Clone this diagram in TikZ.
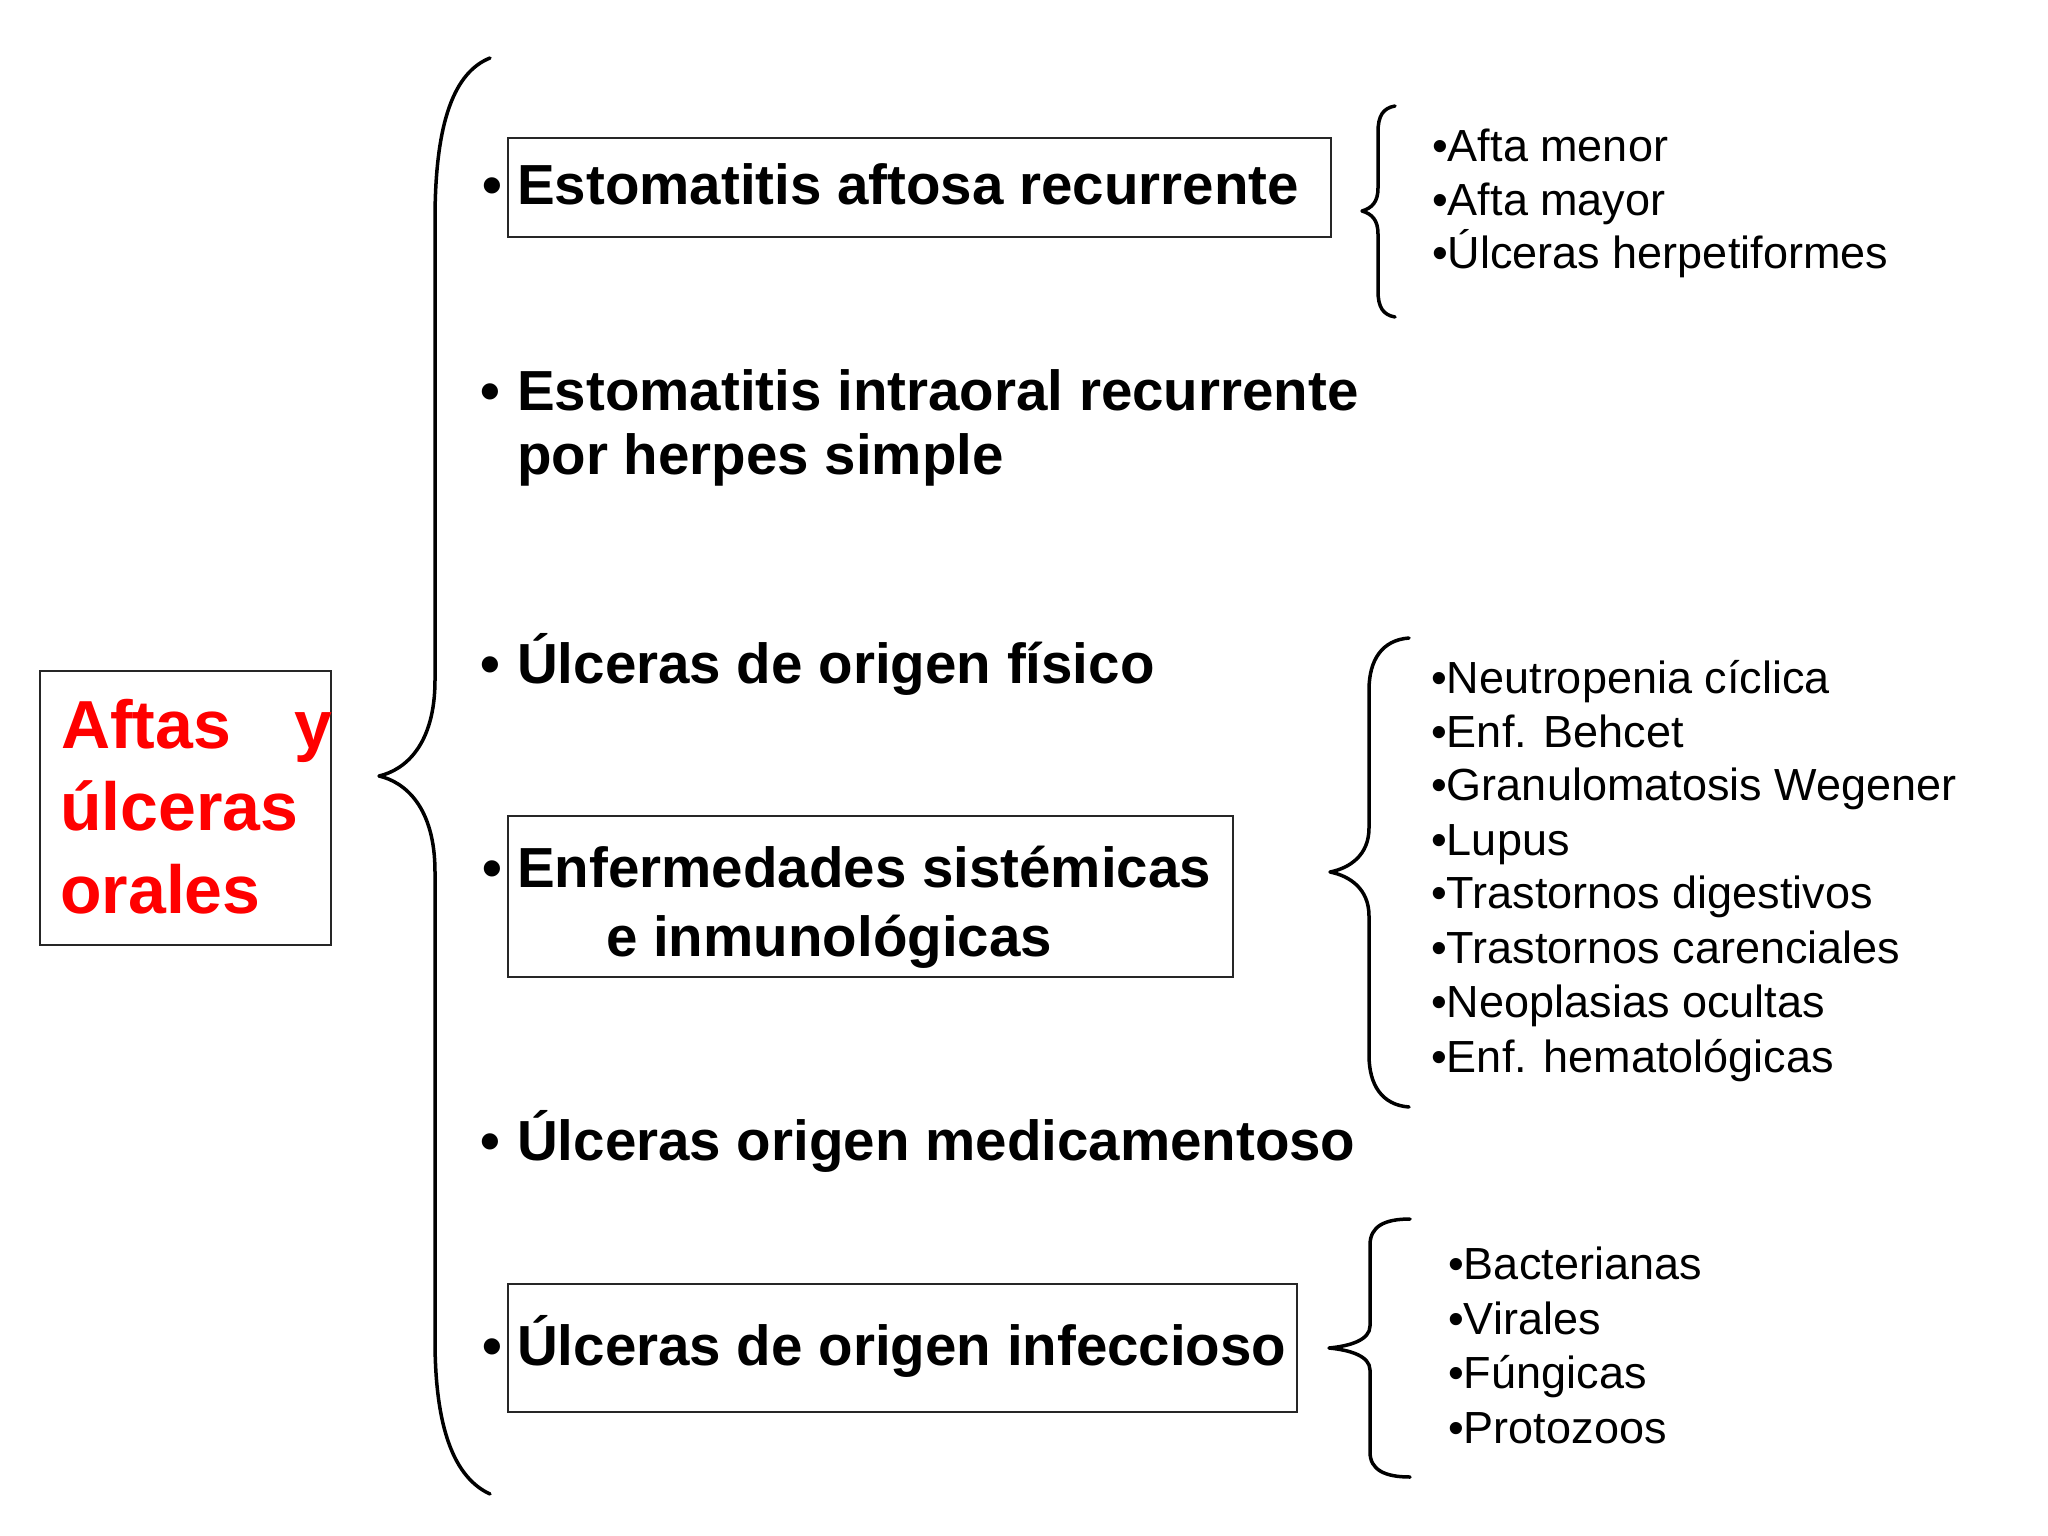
\documentclass[tikz,border=0pt]{standalone}
\usepackage{fontspec}
\setmainfont{Liberation Sans}
\tikzset{
  itemtext/.style={anchor=base west, inner sep=0pt, font=\fontsize{56.5}{60}\selectfont\bfseries},
  subtext/.style={anchor=base west, inner sep=0pt, font=\fontsize{45}{50}\selectfont},
  redtext/.style={inner sep=0pt, text=red, font=\fontsize{68}{72}\selectfont\bfseries},
  framebox/.style={draw=black!85, line width=2.5pt, inner sep=0pt},
  bracepath/.style={draw=black, line width=3.5pt, line cap=round, line join=round}
}
\begin{document}
\begin{tikzpicture}[x=1pt,y=-1pt]
\fill[white] (0,0) rectangle (2048,1536);
\useasboundingbox (0,0) rectangle (2048,1536);

% main box
\node[framebox, minimum width=291pt, minimum height=274pt] (main) at (185.5,808) {};
\node[redtext, anchor=base west] (r1) at (61,748) {Aftas};
\node[redtext, anchor=base east] (r1y) at (333,748) {y};
\node[redtext, anchor=base west] (r2) at (60,830) {úlceras};
\node[redtext, anchor=base west] (r3) at (60,913) {orales};

% big brace
\draw[bracepath] (490,58) .. controls (455,72) and (435,120) .. (435,220) -- (435,680)
  .. controls (435,745) and (405,770) .. (379,776)
  .. controls (405,782) and (435,807) .. (435,872) -- (435,1340)
  .. controls (435,1430) and (455,1478) .. (490,1494);

% item boxes
\node[framebox, minimum width=823pt, minimum height=99pt] (box1) at (919.5,187.5) {};
\node[framebox, minimum width=725pt, minimum height=161pt] (box4) at (870.5,896.5) {};
\node[framebox, minimum width=789pt, minimum height=128pt] (box6) at (902.5,1348) {};

% bullets
\node[itemtext] (b1) at (482,204) {•};
\node[itemtext] (b2) at (480,410) {•};
\node[itemtext] (b3) at (480,683) {•};
\node[itemtext] (b4) at (482,887) {•};
\node[itemtext] (b5) at (480,1160) {•};
\node[itemtext] (b6) at (482,1365) {•};

% items
\node[itemtext] (i1) at (517,204) {Estomatitis aftosa recurrente};
\node[itemtext] (i2a) at (517,410) {Estomatitis intraoral recurrente};
\node[itemtext] (i2b) at (517,474) {por herpes simple};
\node[itemtext] (i3) at (517,683) {Úlceras de origen físico};
\node[itemtext] (i4a) at (517,887) {Enfermedades sistémicas};
\node[itemtext] (i4b) at (606,956) {e inmunológicas};
\node[itemtext] (i5) at (517,1160) {Úlceras origen medicamentoso};
\node[itemtext] (i6) at (517,1365) {Úlceras de origen infeccioso};

% brace A
\draw[bracepath] (1395,106) .. controls (1383,108) and (1378,116) .. (1378,132) -- (1378,188)
  .. controls (1378,202) and (1372,208) .. (1362,211)
  .. controls (1372,214) and (1378,220) .. (1378,234) -- (1378,291)
  .. controls (1378,307) and (1383,315) .. (1395,317);
\node[subtext] (a1) at (1432,161) {•Afta menor};
\node[subtext] (a2) at (1432,215) {•Afta mayor};
\node[subtext] (a3) at (1432,268) {•Úlceras herpetiformes};

% brace B
\draw[bracepath] (1409,638) .. controls (1382,640) and (1369,660) .. (1369,690) -- (1369,828)
  .. controls (1369,855) and (1350,868) .. (1330,872)
  .. controls (1350,876) and (1369,889) .. (1369,916) -- (1369,1055)
  .. controls (1369,1085) and (1382,1105) .. (1409,1107);
\node[subtext] (s1) at (1431,693) {•Neutropenia cíclica};
\node[subtext] (s2) at (1431,747) {•Enf. Behcet};
\node[subtext] (s3) at (1431,800) {•Granulomatosis Wegener};
\node[subtext] (s4) at (1431,855) {•Lupus};
\node[subtext] (s5) at (1431,908) {•Trastornos digestivos};
\node[subtext] (s6) at (1431,963) {•Trastornos carenciales};
\node[subtext] (s7) at (1431,1017) {•Neoplasias ocultas};
\node[subtext] (s8) at (1431,1072) {•Enf. hematológicas};

% brace C
\draw[bracepath] (1410,1219) .. controls (1385,1219) and (1370,1226) .. (1370,1245) -- (1370,1326)
  .. controls (1370,1340) and (1350,1346) .. (1329,1348)
  .. controls (1350,1350) and (1370,1356) .. (1370,1370) -- (1370,1452)
  .. controls (1370,1470) and (1385,1477) .. (1410,1477);
\node[subtext] (c1) at (1448,1279) {•Bacterianas};
\node[subtext] (c2) at (1448,1334) {•Virales};
\node[subtext] (c3) at (1448,1388) {•Fúngicas};
\node[subtext] (c4) at (1448,1443) {•Protozoos};
\end{tikzpicture}
\end{document}
